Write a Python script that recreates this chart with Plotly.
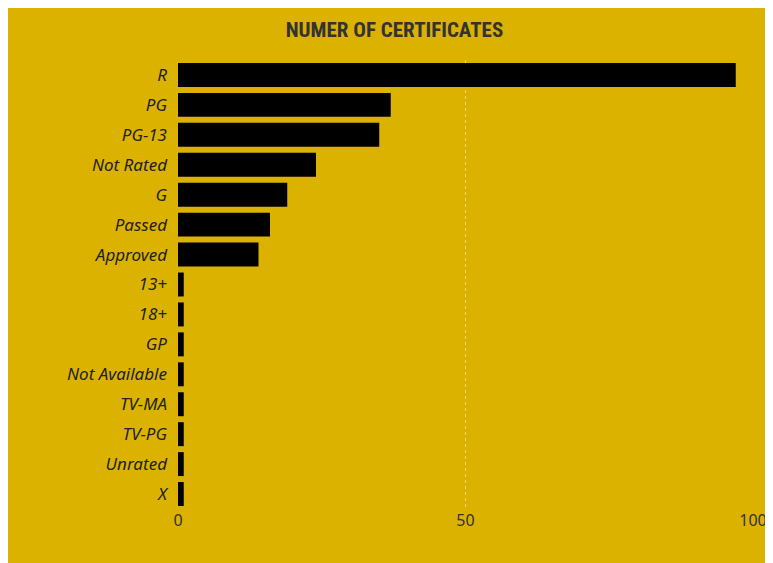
import plotly.graph_objects as go

categories = ["R", "PG", "PG-13", "Not Rated", "G", "Passed", "Approved",
              "13+", "18+", "GP", "Not Available", "TV-MA", "TV-PG", "Unrated", "X"]
counts = [97, 37, 35, 24, 19, 16, 14, 1, 1, 1, 1, 1, 1, 1, 1]

fig = go.Figure(go.Bar(x=counts, y=categories, orientation="h",
                       marker=dict(color="#000000", line=dict(width=0)), width=0.8))
fig.update_layout(
    width=773, height=563,
    paper_bgcolor="#DBB200", plot_bgcolor="#DBB200",
    margin=dict(l=170, r=28, t=52, b=62),
    title=dict(text="<b>NUMER OF CERTIFICATES</b>", x=0.5, xanchor="center", y=0.975,
               font=dict(family="Roboto Condensed, Roboto, sans-serif", size=21, color="#333333")),
    showlegend=False,
)
fig.update_xaxes(range=[0, 100], tickvals=[0, 50, 100], showgrid=True,
                 gridcolor="#EFD66A", griddash="dot", zeroline=False,
                 tickfont=dict(family="Noto Sans", size=16, color="#333333"))
fig.update_yaxes(categoryorder="array", categoryarray=categories[::-1],
                 showgrid=False, ticks="", ticklen=0, automargin=False,
                 ticklabelstandoff=10,
                 tickfont=dict(family="Noto Sans", size=17, color="#222222", style="italic"))
fig.write_html("out.html")
